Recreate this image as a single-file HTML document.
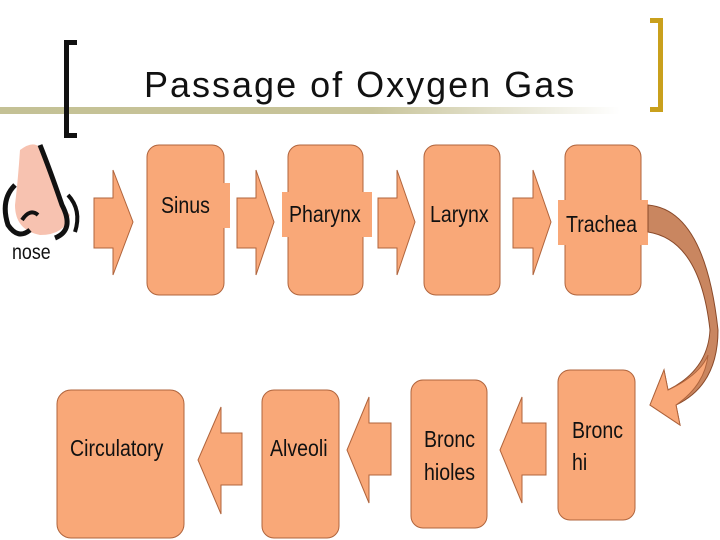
<!DOCTYPE html>
<html><head><style>
body{margin:0;width:720px;height:540px;background:#fff;position:relative;overflow:hidden;font-family:"Liberation Sans",sans-serif}
.t{position:absolute;font-size:23px;color:#111;transform:scaleX(0.85);transform-origin:left top;white-space:nowrap}
</style></head><body>
<div style="position:absolute;left:0;top:107px;width:620px;height:7px;background:linear-gradient(90deg,#c4c195 0%,#c8c49a 60%,#fff 100%)"></div>
<div style="position:absolute;left:64px;top:40px;width:8px;height:88px;border:5px solid #111;border-right:none"></div>
<div style="position:absolute;left:650px;top:18px;width:8px;height:84px;border:5px solid #c9a01c;border-left:none"></div>
<div style="position:absolute;left:144px;top:64px;font-size:36px;letter-spacing:2px;color:#111">Passage of Oxygen Gas</div>
<svg width="720" height="540" style="position:absolute;left:0;top:0">
<g fill="#f9a878" stroke="#b0643c" stroke-width="1">
<path d="M20 150 Q40 135 45 160 Q55 200 70 215 Q65 235 40 235 Q15 230 15 205 Q18 180 20 150Z" fill="#f7c2b0" stroke="none"/>
<path d="M40 145 Q50 170 62 205 Q75 230 55 238" fill="none" stroke="#111" stroke-width="5"/>
<path d="M15 185 Q0 200 8 225 Q18 240 30 230" fill="none" stroke="#111" stroke-width="5"/>
<path d="M68 195 Q82 210 75 232" fill="none" stroke="#111" stroke-width="4"/>
<path d="M22 220 Q30 208 38 215" fill="none" stroke="#111" stroke-width="4"/>
<rect x="147" y="145" width="77" height="150" rx="12"/>
<rect x="288" y="145" width="75" height="150" rx="12"/>
<rect x="424" y="145" width="76" height="150" rx="12"/>
<rect x="565" y="145" width="76" height="150" rx="12"/>
<rect x="158" y="183" width="72" height="45" stroke="none"/>
<rect x="282" y="192" width="90" height="45" stroke="none"/>
<rect x="558" y="200" width="90" height="45" stroke="none"/>
<path d="M94 198 H113 V170 L133 222 L113 275 V248 H94Z"/>
<path d="M237 198 H256 V170 L274 222 L256 275 V248 H237Z"/>
<path d="M378 198 H397 V170 L415 222 L397 275 V248 H378Z"/>
<path d="M513 198 H533 V170 L551 222 L533 275 V248 H513Z"/>
<path d="M648 205 Q705 210 718 330 Q718 385 676 405 L680 425 L650 405 L664 370 L668 390 Q708 370 710 330 Q700 240 648 232Z" fill="#c98660" stroke="#8a4a2a"/>
<path d="M676 405 L680 425 L650 405 L664 370 L668 390 Q700 375 708 355 Q705 385 676 405Z" fill="#f9a878"/>
<rect x="57" y="390" width="127" height="148" rx="14"/>
<rect x="262" y="390" width="77" height="148" rx="12"/>
<rect x="411" y="380" width="76" height="148" rx="12"/>
<rect x="558" y="370" width="77" height="150" rx="12"/>
<path d="M242 433 H221 V407 L198 460 L221 514 V485 H242Z"/>
<path d="M391 423 H369 V397 L347 450 L369 503 V475 H391Z"/>
<path d="M546 423 H522 V397 L500 450 L522 503 V475 H546Z"/>
</g>
</svg>
<div class="t" style="left:12px;top:241px;font-size:21px">nose</div>
<div class="t" style="left:161px;top:192px">Sinus</div>
<div class="t" style="left:289px;top:201px">Pharynx</div>
<div class="t" style="left:430px;top:201px">Larynx</div>
<div class="t" style="left:566px;top:211px">Trachea</div>
<div class="t" style="left:70px;top:435px">Circulatory</div>
<div class="t" style="left:270px;top:435px">Alveoli</div>
<div class="t" style="left:424px;top:426px">Bronc</div>
<div class="t" style="left:424px;top:459px">hioles</div>
<div class="t" style="left:572px;top:417px">Bronc</div>
<div class="t" style="left:572px;top:449px">hi</div>
</body></html>
